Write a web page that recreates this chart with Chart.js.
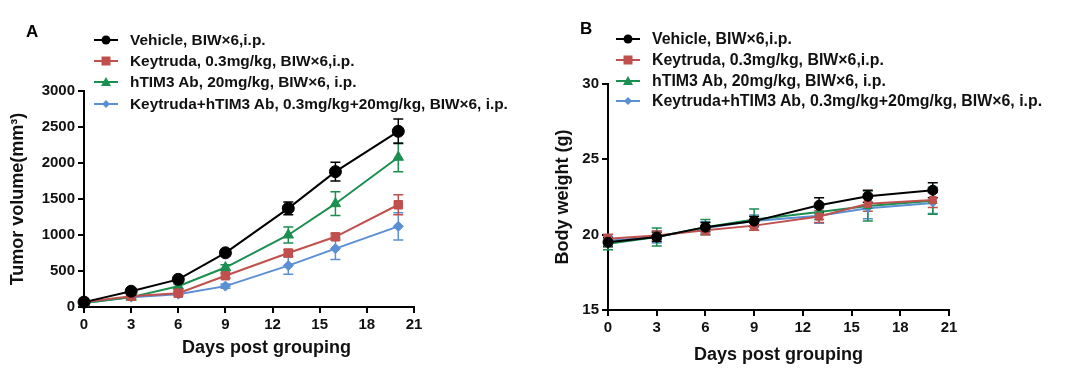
<!DOCTYPE html>
<html>
<head>
<meta charset="utf-8">
<script src="https://cdn.jsdelivr.net/npm/chart.js@4"></script>
<style>
  body { margin: 0; background: #fff; font-family: "Liberation Sans", Arial, sans-serif; }
  #wrap { position: relative; width: 1080px; height: 390px; overflow: hidden; }
  .panel { position: absolute; top: 0; width: 540px; height: 390px; }
  .tag { position: absolute; font-weight: bold; font-size: 17px; }
  .legend { position: absolute; font-weight: bold; color: #111; }
  .legend div { display: flex; align-items: center; white-space: nowrap; }
  .legend svg { margin-right: 12px; }
</style>
</head>
<body>
<div id="wrap">
  <div class="panel" style="left:0"><canvas id="chartA" width="540" height="390"></canvas></div>
  <div class="panel" style="left:540px"><canvas id="chartB" width="540" height="390"></canvas></div>
  <div class="tag" style="left:26px;top:22px">A</div>
  <div class="tag" style="left:580px;top:19px">B</div>
  <div class="legend" id="legendA" style="left:94px;top:29px;font-size:15.4px"></div>
  <div class="legend" id="legendB" style="left:616px;top:29px;font-size:15.9px"></div>
</div>
<script>
// days of measurement
const days = [0, 3, 6, 9, 13, 16, 20];

const groupNames = [
  'Vehicle, BIW\u00d76,i.p.',
  'Keytruda, 0.3mg/kg, BIW\u00d76,i.p.',
  'hTIM3 Ab, 20mg/kg, BIW\u00d76, i.p.',
  'Keytruda+hTIM3 Ab, 0.3mg/kg+20mg/kg, BIW\u00d76, i.p.'
];
const groupColors = ['#000000', '#c0504d', '#1a8f4f', '#5b8fd4'];
const groupMarkers = ['circle', 'rect', 'triangle', 'rectRot'];

// panel A - tumor volume (mm3), mean and error
const tumorVehicle  = [68, 219, 384, 753, 1370, 1880, 2440];
const tumorKeytruda = [68, 150, 192, 434, 750, 975, 1420];
const tumorTim3     = [55, 137, 288, 548, 1000, 1435, 2080];
const tumorCombo    = [55, 137, 178, 290, 575, 810, 1120];
const tumorVehicleErr  = [15, 20, 30, 40, 90, 130, 170];
const tumorKeytrudaErr = [15, 15, 25, 35, 45, 45, 140];
const tumorTim3Err     = [15, 15, 30, 40, 110, 165, 200];
const tumorComboErr    = [15, 15, 20, 30, 120, 150, 190];

// panel B - body weight (g), mean and error
const weightVehicle  = [19.5, 19.85, 20.5, 20.9, 21.95, 22.55, 22.95];
const weightKeytruda = [19.73, 19.95, 20.3, 20.6, 21.2, 22.05, 22.3];
const weightTim3     = [19.4, 19.85, 20.5, 21.0, 21.5, 21.9, 22.25];
const weightCombo    = [19.6, 19.85, 20.45, 20.9, 21.25, 21.75, 22.1];
const weightVehicleErr  = [0.3, 0.3, 0.3, 0.3, 0.5, 0.4, 0.5];
const weightKeytrudaErr = [0.3, 0.3, 0.3, 0.3, 0.4, 0.5, 0.5];
const weightTim3Err     = [0.4, 0.6, 0.5, 0.7, 0.5, 1.0, 0.9];
const weightComboErr    = [0.3, 0.4, 0.4, 0.4, 0.5, 0.7, 0.7];

const xTicks = [0, 3, 6, 9, 12, 15, 18, 21];

function makeDatasets(series, errs, radius) {
  return series.map((vals, i) => ({
    label: groupNames[i],
    data: vals.map((v, j) => ({ x: days[j], y: v })),
    errors: errs[i],
    borderColor: groupColors[i],
    backgroundColor: groupColors[i],
    pointStyle: groupMarkers[i],
    pointRadius: groupMarkers[i] === 'rectRot' ? radius - 1 : radius,
    borderWidth: 2,
    pointBorderWidth: 1,
    clip: false
  }));
}

// draws error bars (up and down with caps) using the chart scales
const errorBars = {
  id: 'errorBars',
  beforeDatasetsDraw(chart) {
    const ctx = chart.ctx;
    const xs = chart.scales.x, ys = chart.scales.y;
    ctx.save();
    for (let i = chart.data.datasets.length - 1; i >= 0; i--) {
      const ds = chart.data.datasets[i];
      ctx.strokeStyle = ds.borderColor;
      ctx.lineWidth = 1.5;
      ds.data.forEach((p, j) => {
        const e = ds.errors[j];
        const px = xs.getPixelForValue(p.x);
        const top = ys.getPixelForValue(p.y + e);
        const bot = ys.getPixelForValue(p.y - e);
        ctx.beginPath();
        ctx.moveTo(px, top); ctx.lineTo(px, bot);
        ctx.moveTo(px - 5, top); ctx.lineTo(px + 5, top);
        ctx.moveTo(px - 5, bot); ctx.lineTo(px + 5, bot);
        ctx.stroke();
      });
    }
    ctx.restore();
  }
};

function axisBase() {
  return {
    type: 'linear',
    grid: { display: true, drawOnChartArea: false, drawTicks: true, tickLength: 6, color: '#000', lineWidth: 2 },
    border: { display: true, color: '#000', width: 2 },
    ticks: { color: '#111', font: { family: 'Liberation Sans', size: 15, weight: 'bold' }, callback: v => String(v) }
  };
}

function makeChart(id, cfg) {
  const x = axisBase();
  x.min = 0; x.max = 21;
  x.afterBuildTicks = s => { s.ticks = xTicks.map(v => ({ value: v })); };
  x.ticks.padding = 3;
  x.afterFit = s => { s.height = cfg.xHeight; };
  x.title = { display: true, text: cfg.xTitle, color: '#111',
    font: { family: 'Liberation Sans', size: 18, weight: 'bold' }, padding: { top: 0, bottom: cfg.xTitlePad } };

  const y = axisBase();
  y.min = cfg.yMin; y.max = cfg.yMax;
  y.ticks.stepSize = cfg.yStep;
  y.ticks.padding = 3;
  y.afterFit = s => { s.width = cfg.yWidth; };
  y.title = { display: true, text: cfg.yTitle, color: '#111',
    font: { family: 'Liberation Sans', size: 18, weight: 'bold' }, padding: { top: cfg.yTitlePad, bottom: 0 } };

  return new Chart(document.getElementById(id), {
    type: 'line',
    data: { datasets: cfg.datasets },
    options: {
      responsive: false,
      animation: false,
      layout: { padding: cfg.padding },
      plugins: { legend: { display: false }, tooltip: { enabled: false } },
      scales: { x: x, y: y }
    },
    plugins: [errorBars]
  });
}

makeChart('chartA', {
  datasets: makeDatasets([tumorVehicle, tumorKeytruda, tumorTim3, tumorCombo],
    [tumorVehicleErr, tumorKeytrudaErr, tumorTim3Err, tumorComboErr], 6),
  yMin: 0, yMax: 3000, yStep: 500, yTitle: 'Tumor volume(mm\u00b3)',
  xTitle: '\u00a0\u00a0\u00a0\u00a0\u00a0\u00a0\u00a0Days post grouping',
  padding: { top: 91, right: 126, bottom: 0, left: 0 },
  yWidth: 84, xHeight: 83, yTitlePad: 7, xTitlePad: 31
});

makeChart('chartB', {
  datasets: makeDatasets([weightVehicle, weightKeytruda, weightTim3, weightCombo],
    [weightVehicleErr, weightKeytrudaErr, weightTim3Err, weightComboErr], 5),
  yMin: 15, yMax: 30, yStep: 5, yTitle: 'Body weight (g)',
  xTitle: 'Days post grouping',
  padding: { top: 84, right: 131, bottom: 0, left: 0 },
  yWidth: 68, xHeight: 80, yTitlePad: 12, xTitlePad: 24
});

// html legends with line + marker
function markerSvg(i) {
  const c = groupColors[i];
  let m;
  if (groupMarkers[i] === 'circle') m = `<circle cx="12" cy="7" r="4.5" fill="${c}"/>`;
  else if (groupMarkers[i] === 'rect') m = `<rect x="7.5" y="2.5" width="9" height="9" fill="${c}"/>`;
  else if (groupMarkers[i] === 'triangle') m = `<polygon points="12,2 17,11 7,11" fill="${c}"/>`;
  else m = `<polygon points="12,3 16,7 12,11 8,7" fill="${c}"/>`;
  return `<svg width="24" height="14"><line x1="0" y1="7" x2="24" y2="7" stroke="${c}" stroke-width="2"/>${m}</svg>`;
}
function buildLegend(id, rowH) {
  const el = document.getElementById(id);
  el.innerHTML = groupNames.map((n, i) =>
    `<div style="height:${rowH}px">${markerSvg(i)}<span>${n}</span></div>`).join('');
}
buildLegend('legendA', 21.3);
buildLegend('legendB', 20.7);
</script>
</body>
</html>
